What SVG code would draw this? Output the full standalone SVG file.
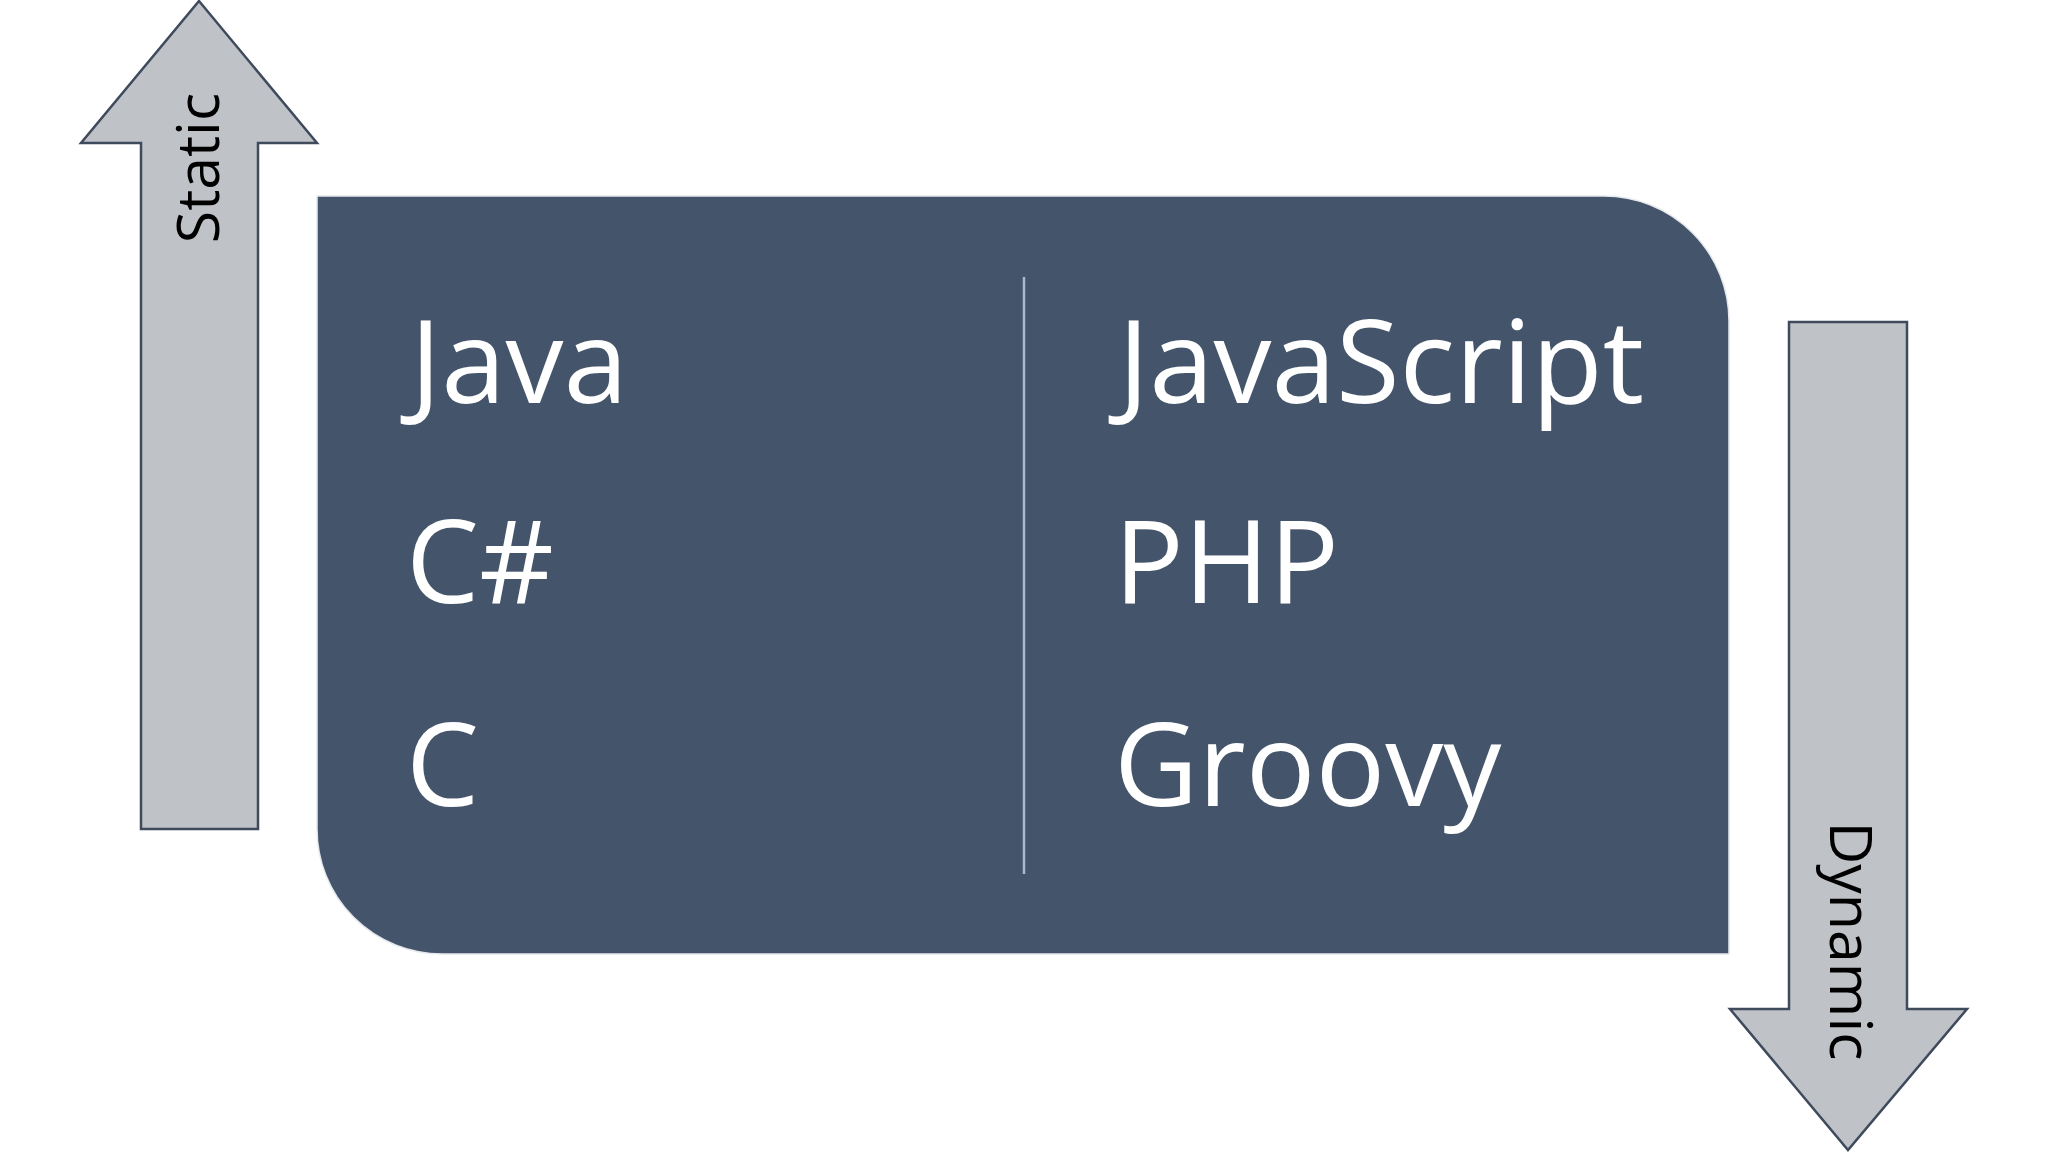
<svg xmlns="http://www.w3.org/2000/svg" width="2048" height="1152" viewBox="0 0 2048 1152">
<style>
.arrow{fill:#bfc2c7;stroke:#3f4a5c;stroke-width:2.5;stroke-linejoin:miter}
.lbl{font-family:"Open Sans","Noto Sans",sans-serif;font-size:59px;fill:#000}
.lang{font-family:"Open Sans","Noto Sans",sans-serif;font-size:116px;fill:#fff}
</style>
<rect width="2048" height="1152" fill="#fff"/>
<g id="static-arrow">
<path class="arrow" d="M199,1 L317,143 H258 V829 H141 V143 H81 Z"/>
<text class="lbl" transform="translate(219,168) rotate(-90)" text-anchor="middle">Static</text>
</g>
<g id="dynamic-arrow">
<path class="arrow" d="M1789,322 H1907 V1009 H1967 L1848,1150 L1730,1009 H1789 Z"/>
<text class="lbl" transform="translate(1830,941) rotate(90)" text-anchor="middle">Dynamic</text>
</g>
<g id="panel">
<path d="M317,196 H1604 A125,125 0 0 1 1729,321 V954 H442 A125,125 0 0 1 317,829 Z" fill="#44546a" stroke="#e6e9ee" stroke-width="1.5"/>
</g>
<g id="connectors">
<line x1="1024" y1="277" x2="1024" y2="874" stroke="#a9b8cc" stroke-width="2.5"/>
</g>
<g id="static-langs">
<text class="lang" x="410" y="403">Java</text>
<text class="lang" x="406" y="603">C#</text>
<text class="lang" x="406" y="806">C</text>
</g>
<g id="dynamic-langs">
<text class="lang" x="1118" y="403">JavaScript</text>
<text class="lang" x="1114" y="603">PHP</text>
<text class="lang" x="1114" y="806">Groovy</text>
</g>
</svg>
